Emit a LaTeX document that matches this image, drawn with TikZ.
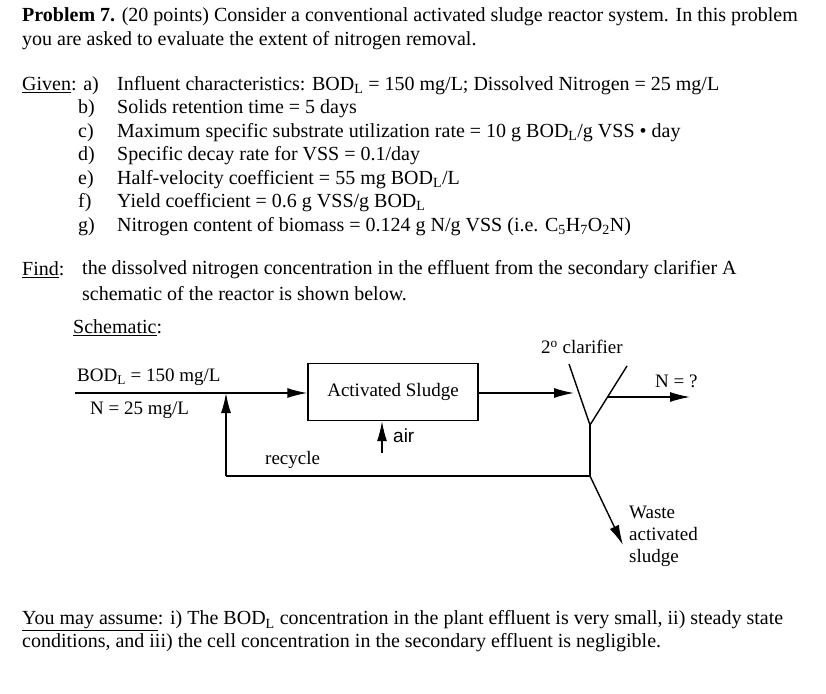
\documentclass[tikz,border=0pt]{standalone}
\usepackage{fontspec}
\setmainfont{Liberation Serif}
\newfontfamily\sansf{Liberation Sans}
\usetikzlibrary{arrows.meta}
\newcommand{\sub}[1]{\textsubscript{#1}}
\begin{document}
\begin{tikzpicture}[x=1pt,y=-1pt,
  t/.style={anchor=west,inner sep=0pt,font=\fontsize{20}{24}\selectfont},
  s/.style={anchor=west,inner sep=0pt,font=\fontsize{19}{22}\selectfont},
  ln/.style={line width=1.4pt},
  ar/.style={line width=1.4pt,-{Latex[length=20pt,width=10pt]}}]
\useasboundingbox (0,0) rectangle (826,693);
\node[t] (l1) at (22,17) {\textbf{Problem 7.} (20 points) Consider a conventional activated sludge reactor system. In this problem};
\node[t] (l2) at (22,41) {you are asked to evaluate the extent of nitrogen removal.};
\node[t] (ga) at (22,86) {\underline{Given}: a)};
\node[t] (gat) at (117,86) {Influent characteristics: BOD\sub{L} = 150 mg/L; Dissolved Nitrogen = 25 mg/L};
\node[t] (gb) at (78,109) {b)};\node[t] (gbt) at (117,109) {Solids retention time = 5 days};
\node[t] (gc) at (78,133) {c)};\node[t] (gct) at (117,133) {Maximum specific substrate utilization rate = 10 g BOD\sub{L}/g VSS \textbullet\ day};
\node[t] (gd) at (78,156) {d)};\node[t] (gdt) at (117,156) {Specific decay rate for VSS = 0.1/day};
\node[t] (ge) at (78,180) {e)};\node[t] (get) at (117,180) {Half-velocity coefficient = 55 mg BOD\sub{L}/L};
\node[t] (gf) at (78,203) {f)};\node[t] (gft) at (117,203) {Yield coefficient = 0.6 g VSS/g BOD\sub{L}};
\node[t] (gg) at (78,227) {g)};\node[t] (ggt) at (117,227) {Nitrogen content of biomass = 0.124 g N/g VSS (i.e. C\sub{5}H\sub{7}O\sub{2}N)};
\node[t] (f1) at (22,270) {\underline{Find}:};
\node[t] (f1t) at (82,270) {the dissolved nitrogen concentration in the effluent from the secondary clarifier A};
\node[t] (f2t) at (82,294) {schematic of the reactor is shown below.};
\node[t] (sch) at (73,328) {\underline{Schematic}:};
\node[t] (y1) at (22,621) {\underline{You may assume}: i) The BOD\sub{L} concentration in the plant effluent is very small, ii) steady state};
\node[t] (y2) at (22,643) {conditions, and iii) the cell concentration in the secondary effluent is negligible.};
% schematic
\node[draw,line width=1.4pt,minimum width=170pt,minimum height=57pt,inner sep=0pt,
  font=\fontsize{19}{22}\selectfont] (box) at (393,392) {Activated Sludge};
\coordinate (in) at (75,393);
\coordinate (rj) at (226,393);
\coordinate (rb) at (226,476);
\coordinate (cb) at (590,425);
\coordinate (cj) at (590,476);
\coordinate (cl) at (569,364);
\coordinate (cr) at (627,366);
\coordinate (o1) at (608,397);
\coordinate (o2) at (690,397);
\coordinate (w) at (623,545);
\coordinate (a1) at (382,453);
\draw[ar] (in) -- (box.west |- in);
\draw[ar] (rb) -- (rj);
\draw[ln] (cj) -- (rb);
\draw[ar] (a1) -- (box.south -| a1);
\draw[ar] (box.east |- 0,393) -- (574,393);
\draw[ln] (cl) -- (cb) -- (cr);
\draw[ln] (cb) -- (cj);
\draw[ar] (o1) -- (o2);
\draw[ar] (cj) -- (w);
\node[s] (bod) at (77,377) {BOD\sub{L} = 150 mg/L};
\node[s] (n25) at (90,410) {N = 25 mg/L};
\node[s] (air) at (393,436) {\sansf air};
\node[s] (rec) at (265,460) {recycle};
\node[s] (clar) at (541,347) {2\textsuperscript{o} clarifier};
\node[s] (nq) at (655,381) {N = ?};
\node[s,align=left,anchor=north west] (was) at (629,506) {Waste\\activated\\sludge};
\end{tikzpicture}
\end{document}
